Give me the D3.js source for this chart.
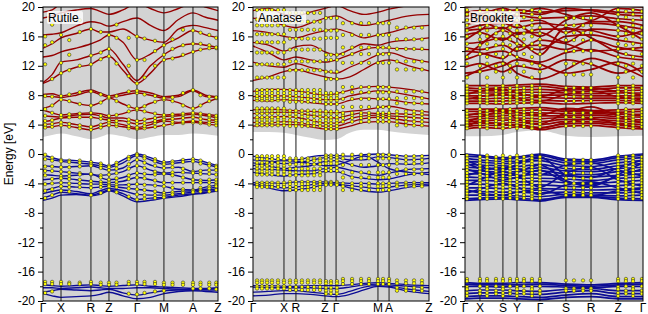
<!DOCTYPE html>
<html>
<head>
<meta charset="utf-8">
<script src="https://cdn.jsdelivr.net/npm/d3@7"></script>
<style>
body { margin: 0; background: #fff; }
svg { display: block; }
text { font-family: Arial, "Liberation Sans", sans-serif; fill: #000; }
</style>
</head>
<body>
<svg id="chart" width="648" height="314"></svg>
<script>
// ---------- Rutile ----------
var rutLabels = ["Γ","X","R","Z","Γ","M","A","Z"];
var rutLabelK = [0, 0.103, 0.274, 0.377, 0.537, 0.691, 0.857, 1];
var rutK = [0, 0.052, 0.103, 0.19, 0.274, 0.326, 0.377, 0.457, 0.537, 0.614, 0.691, 0.774, 0.857, 0.929, 1];
var rutValence = [
  [-0.1,-0.5,-0.8,-0.9,-1.1,-1.3,-1.6,-0.8,0.0,-0.5,-1.1,-0.9,-0.7,-1.1,-1.6],
  [-0.6,-0.8,-1.0,-1.2,-1.4,-1.6,-1.8,-1.2,-0.2,-0.8,-1.4,-1.2,-1.0,-1.4,-1.8],
  [-1.6,-1.7,-1.8,-1.7,-1.6,-1.9,-2.2,-1.9,-0.8,-1.5,-1.9,-1.8,-2.4,-2.2,-2.2],
  [-2.2,-2.3,-2.4,-2.6,-2.8,-2.9,-2.8,-2.4,-1.6,-2.2,-2.6,-2.5,-2.6,-2.7,-2.8],
  [-2.8,-2.9,-3.0,-2.9,-2.7,-3.2,-3.5,-3.2,-2.6,-2.8,-2.7,-3.0,-3.5,-3.6,-3.5],
  [-3.5,-3.4,-3.3,-3.5,-3.7,-3.8,-3.9,-3.7,-3.2,-3.5,-3.9,-3.9,-3.9,-3.9,-3.9],
  [-4.1,-4.0,-3.9,-4.0,-4.1,-4.1,-4.2,-4.2,-4.1,-4.2,-4.4,-4.8,-4.9,-4.5,-4.2],
  [-5.0,-4.7,-4.4,-4.5,-4.6,-4.5,-4.4,-4.6,-4.8,-5.0,-5.3,-5.1,-5.0,-4.8,-4.4],
  [-5.4,-5.1,-4.9,-5.1,-5.4,-5.0,-4.7,-5.0,-5.5,-5.6,-5.6,-5.4,-5.2,-5.0,-4.7],
  [-6.0,-5.6,-5.2,-5.4,-5.6,-5.3,-4.9,-5.4,-6.2,-6.0,-5.9,-5.6,-5.4,-5.2,-4.9],
  [-6.3,-6.0,-5.6,-5.5,-5.7,-5.5,-5.0,-5.7,-6.5,-6.3,-6.0,-5.8,-5.5,-5.3,-5.0]
];
var rutConduction = [
  [3.6,3.7,3.9,3.6,3.3,3.6,3.9,3.7,3.4,3.6,3.9,4.2,4.3,4.1,3.9],
  [4.0,4.1,4.3,4.0,3.7,4.0,4.3,4.0,3.6,4.0,4.5,4.3,4.5,4.3,4.3],
  [4.4,4.6,4.9,5.0,5.0,4.8,4.6,4.5,4.1,4.3,4.7,4.8,5.0,4.7,4.6],
  [5.2,5.1,5.0,5.3,5.4,5.2,4.9,4.9,4.5,4.8,5.1,5.2,5.4,5.2,4.9],
  [6.0,5.6,5.3,5.5,5.6,5.5,5.2,5.5,6.0,5.6,5.3,5.4,5.6,5.4,5.2],
  [6.2,6.6,7.4,6.9,6.6,7.0,7.6,6.8,6.2,6.9,7.4,7.0,6.2,7.0,7.6],
  [7.8,7.8,7.7,8.0,8.5,8.1,7.7,8.0,8.3,8.0,7.6,7.8,8.6,7.8,7.7],
  [8.1,8.2,7.9,8.3,8.7,8.3,7.9,8.3,8.6,8.3,7.8,8.0,8.7,8.0,7.8],
  [9.6,10.2,11.0,11.8,12.2,12.9,13.3,11.4,9.6,11.0,12.8,13.2,13.9,14.3,14.4],
  [9.7,10.8,12.5,12.8,13.4,13.8,14.3,12.2,10.0,12.0,13.5,14.6,15.0,14.8,14.5],
  [13.2,13.4,13.9,14.4,15.0,15.5,16.2,15.2,12.8,13.6,14.8,15.8,16.8,16.2,15.8],
  [14.4,15.0,15.8,16.4,17.0,16.6,16.6,17.0,16.0,15.5,15.2,17.0,17.5,17.2,16.8],
  [16.2,16.3,16.5,17.4,18.0,17.8,17.4,18.0,18.5,17.5,16.8,18.3,19.2,18.6,18.2],
  [18.5,18.8,19.2,19.6,19.8,19.4,19.0,19.6,20.5,19.8,19.2,19.8,20.5,20.0,19.5],
  [19.3,19.6,20.4,20.6,21.0,20.6,20.2,20.8,21.0,20.6,20.2,20.8,21.0,21.0,20.5]
];
var rutSemicore = [
  [-17.8,-17.9,-18.0,-17.9,-17.8,-17.9,-18.0,-17.9,-17.8,-18.0,-18.1,-18.2,-18.3,-18.3,-18.2],
  [-18.2,-18.2,-18.3,-18.2,-18.1,-18.2,-18.3,-18.3,-18.2,-18.2,-18.3,-18.4,-18.5,-18.4,-18.3],
  [-18.8,-18.6,-18.4,-18.5,-18.6,-18.5,-18.4,-18.9,-19.2,-18.9,-18.6,-18.5,-18.5,-18.5,-18.5],
  [-19.0,-19.3,-19.5,-19.4,-19.3,-19.1,-18.8,-19.3,-19.7,-19.5,-19.0,-18.7,-18.6,-18.7,-18.8]
];
var rutGapTop = [2.3,2.6,2.8,2.4,2.0,2.3,2.7,2.4,2.0,2.3,2.6,2.6,2.8,2.7,2.5];
var rutDotK = [0.012,0.052,0.103,0.15,0.21,0.274,0.33,0.377,0.42,0.49,0.537,0.58,0.64,0.691,0.74,0.80,0.857,0.90,0.95,0.99];
var rutDotE = [
  [-0.1,-0.7,-1.7,-2.3,-2.9,-4.1,-5.0,-6.0,3.6,4.0,4.5,5.2,6.1,7.9,12.2,14.8,16.0,-17.4,-17.7,-18.9],
  [-0.5,-0.9,-1.7,-2.3,-3.4,-4.0,-4.8,-5.6,3.7,4.1,4.6,5.6,6.6,7.8,10.2,15.2,17.6,-17.4,-17.7,-18.7],
  [-0.8,-1.0,-1.8,-2.4,-3.0,-3.3,-3.9,-4.4,-5.0,3.9,4.3,5.0,5.3,7.4,7.9,11.0,12.4,16.2,-17.4,-17.7],
  [-0.9,-1.1,-1.8,-2.5,-3.0,-3.4,-4.0,-4.5,-5.1,3.7,4.1,5.0,5.4,7.2,8.1,11.4,13.5,15.5,-17.5,-17.7],
  [-0.9,-1.2,-1.7,-2.6,-2.8,-3.5,-4.0,-4.5,3.5,3.9,5.0,5.5,6.8,8.4,12.0,16.6,18.2,-17.5,-17.7],
  [-1.1,-1.4,-1.6,-2.8,-2.7,-3.7,-4.1,-4.6,-5.6,3.3,3.7,5.0,5.6,6.6,8.5,12.2,13.4,17.0,-17.4,-17.7],
  [-1.3,-1.6,-1.9,-2.9,-3.2,-3.8,-4.1,-4.5,-5.3,3.6,4.0,4.8,5.2,7.0,8.1,12.9,13.8,16.6,-17.5,-17.8],
  [-1.6,-1.8,-2.2,-2.8,-3.5,-3.9,-4.2,-4.4,-4.9,3.9,4.3,4.6,5.2,7.6,7.8,13.3,14.3,16.2,-17.5,-17.8],
  [-1.2,-1.5,-2.0,-2.6,-3.3,-3.8,-4.2,-4.5,-5.2,3.8,4.1,4.5,5.3,7.2,7.9,12.3,15.8,17.6,-17.5,-17.8],
  [-0.4,-0.7,-1.4,-2.0,-2.9,-3.4,-4.2,-4.7,-5.8,3.5,3.8,4.3,4.7,5.8,6.5,8.5,10.6,12.0,15.8,-17.4,-17.7,-19.0],
  [0.0,-0.2,-0.8,-1.6,-2.6,-3.2,-4.1,-4.8,-5.5,-6.2,3.4,3.6,4.1,4.5,6.0,6.2,8.3,8.6,9.6,12.8,16.0,-17.4,-17.7,-19.1],
  [-0.3,-0.6,-1.2,-1.9,-2.7,-3.3,-4.2,-4.9,-5.6,-6.1,3.5,3.8,4.2,4.7,5.8,6.5,8.1,10.4,12.8,15.7,-17.4,-17.7,-18.9],
  [-0.7,-1.0,-1.6,-2.4,-2.8,-3.6,-4.3,-5.1,-5.6,-6.0,3.7,4.2,4.5,4.9,5.5,7.1,7.9,12.0,14.0,15.4,-17.4,-17.7,-18.7],
  [-1.1,-1.4,-1.9,-2.6,-2.7,-3.9,-4.4,-5.3,-5.6,-5.9,3.9,4.5,4.7,5.1,5.3,7.4,7.6,12.8,13.5,14.8,-17.5,-17.8,-18.6],
  [-1.0,-1.3,-1.8,-2.5,-2.9,-3.9,-4.6,-5.2,-5.5,4.1,4.4,4.8,5.2,5.4,7.2,7.7,13.0,14.3,15.6,-17.5,-17.8],
  [-0.8,-1.1,-2.0,-2.5,-3.2,-3.9,-4.8,-5.1,-5.3,4.2,4.4,4.9,5.3,5.5,6.6,8.3,13.5,14.8,16.9,-17.5,-17.8],
  [-0.7,-1.0,-2.4,-2.6,-3.5,-3.9,-4.9,-5.0,-5.2,4.3,4.5,5.0,5.4,5.6,6.2,8.6,8.7,13.9,15.0,16.8,-17.5,-17.8,-18.3],
  [-0.9,-1.3,-2.3,-2.7,-3.6,-3.9,-4.6,-4.9,-5.1,4.2,4.4,4.8,5.3,5.5,6.6,8.0,14.2,15.0,16.5,-17.5,-17.8,-18.3],
  [-1.3,-1.6,-2.2,-2.7,-3.5,-3.9,-4.4,-4.7,-5.1,4.0,4.3,4.7,5.1,5.3,7.2,7.8,14.4,14.8,16.2,-17.5,-17.8,-18.3],
  [-1.6,-1.8,-2.2,-2.8,-3.5,-3.9,-4.2,-4.4,-4.9,3.9,4.3,4.6,4.9,5.2,7.6,7.7,14.4,14.5,15.8,-17.5,-17.8,-18.4]
];

// ---------- Anatase ----------
var anaLabels = ["Γ","X","R","Z","Γ","M","A","Z"];
var anaLabelK = [0, 0.176, 0.244, 0.409, 0.472, 0.710, 0.773, 1];
var anaK = [0, 0.088, 0.176, 0.244, 0.326, 0.409, 0.472, 0.55, 0.63, 0.71, 0.773, 0.886, 1];
var anaValence = [
  [-0.3,-0.6,-0.8,-0.8,-0.4,-0.2,-0.2,-0.3,-0.1,0.0,-0.1,-0.3,-0.2],
  [-0.8,-1.0,-1.3,-1.2,-0.9,-0.5,-0.5,-0.8,-0.8,-0.4,-0.5,-0.8,-0.6],
  [-1.2,-1.6,-2.0,-1.8,-1.6,-1.0,-0.9,-1.4,-1.8,-1.6,-1.3,-1.4,-1.2],
  [-2.0,-2.1,-2.2,-2.3,-2.3,-2.0,-1.8,-2.2,-2.6,-2.9,-2.6,-2.1,-2.0],
  [-2.5,-2.8,-3.0,-2.8,-2.7,-2.4,-2.4,-3.0,-3.3,-3.5,-3.4,-2.8,-2.5],
  [-3.9,-3.9,-4.0,-3.8,-3.8,-3.8,-3.9,-4.0,-4.0,-4.1,-4.0,-3.9,-3.9],
  [-4.1,-4.3,-4.6,-4.5,-4.2,-4.0,-4.1,-4.3,-4.5,-4.7,-4.5,-4.2,-4.1],
  [-4.2,-4.6,-5.0,-4.9,-4.6,-4.2,-4.2,-4.6,-5.0,-5.2,-5.0,-4.5,-4.3],
  [-1.6,-1.2,-0.9,-1.0,-1.3,-1.6,-1.5,-0.9,-0.3,-1.1,-2.0,-2.5,-2.8]
];
var anaConduction = [
  [3.8,3.9,4.0,4.0,3.7,3.4,3.4,3.8,4.3,4.4,4.4,4.0,3.8],
  [4.3,4.2,4.4,4.3,4.0,3.8,3.8,4.3,4.8,5.0,4.9,4.5,4.3],
  [4.9,5.0,5.1,5.0,4.6,4.2,4.2,4.8,5.2,5.3,5.2,5.0,4.8],
  [5.5,5.6,5.7,5.6,5.3,5.0,4.9,5.3,5.6,5.5,5.5,5.4,5.3],
  [6.0,6.1,6.0,5.9,5.8,5.7,5.6,5.8,6.0,6.3,6.5,6.0,5.7],
  [7.3,7.2,7.4,7.3,7.0,6.8,6.8,7.3,7.6,7.5,7.4,7.0,6.8],
  [7.8,7.9,7.9,7.8,7.6,7.4,7.4,7.9,8.3,8.6,8.5,8.0,7.5],
  [8.5,8.8,8.8,8.6,8.3,8.0,8.2,8.7,9.1,9.2,9.1,8.8,8.3],
  [10.0,10.5,11.2,11.5,11.0,10.5,10.2,10.5,11.5,12.5,12.8,12.0,11.3],
  [12.5,12.0,11.8,12.3,11.8,11.3,11.0,11.8,12.6,13.5,13.8,13.0,12.5],
  [14.7,13.8,12.8,13.2,12.8,12.5,12.8,13.5,14.2,14.5,14.4,14.3,14.2],
  [15.2,14.8,14.0,14.6,14.8,13.9,13.5,14.2,15.0,14.8,15.2,15.5,15.8],
  [16.8,16.5,16.0,15.8,16.3,16.8,17.0,16.5,15.8,16.2,16.5,17.2,17.5],
  [18.5,18.2,17.5,17.2,17.8,18.5,18.8,18.0,17.5,17.8,18.2,18.8,19.0],
  [19.5,19.8,19.0,18.8,19.3,19.8,20.2,19.5,19.0,19.3,19.7,20.2,20.5]
];
var anaSemicore = [
  [-17.9,-17.9,-18.0,-18.0,-17.9,-17.9,-17.9,-17.8,-17.6,-17.5,-17.6,-17.8,-17.9],
  [-18.1,-18.2,-18.2,-18.2,-18.2,-18.3,-18.3,-18.1,-17.8,-17.7,-17.8,-18.0,-18.2],
  [-18.8,-18.7,-18.6,-18.6,-18.8,-19.0,-19.1,-18.7,-18.1,-17.9,-18.0,-18.4,-18.7],
  [-19.3,-19.2,-19.0,-19.0,-19.1,-19.3,-19.4,-19.1,-18.5,-18.0,-18.1,-18.7,-19.0]
];
var anaGapTop = [3.0,3.0,2.9,2.6,2.2,1.9,2.0,2.9,3.3,3.3,3.1,2.8,2.6];
var anaDotK = [0.023,0.051,0.080,0.108,0.142,0.176,0.210,0.244,0.278,0.312,0.347,0.381,0.415,0.443,0.477,0.511,0.563,0.614,0.659,0.710,0.739,0.773,0.818,0.869,0.915,0.960];
var anaDotSet = [0,0,0,0,0,0,1,1,1,1,1,1,2,2,2,3,3,3,3,3,3,3,4,4,4,4];
var anaDotSets = [
  [-0.3,-0.7,-1.2,-1.6,-2.0,-2.4,-2.8,-3.9,-4.2,-4.5,3.9,4.3,4.7,5.0,5.5,5.9,6.2,7.3,7.6,7.9,8.3,8.7,10.4,12.2,13.8,15.2,16.3,17.5,18.3,19.6,-17.2,-17.5,-18.0,-18.3],
  [-0.6,-0.9,-1.4,-2.0,-2.5,-2.9,-3.8,-4.1,-4.5,-4.9,3.8,4.2,4.6,5.1,5.5,5.9,7.1,7.5,7.9,8.3,8.7,11.4,12.6,14.2,15.7,16.9,18.0,19.2,-17.2,-17.5,-18.1,-18.5],
  [-0.2,-0.5,-0.9,-1.3,-1.9,-2.3,-3.8,-4.0,-4.2,3.4,3.8,4.2,4.6,5.0,5.5,5.8,6.8,7.3,7.6,8.0,8.3,10.2,11.2,12.8,13.5,15.8,16.8,18.5,-17.3,-17.6,-18.2,-18.6,-19.0],
  [-0.1,-0.6,-1.5,-2.5,-3.2,-4.0,-4.4,-4.9,4.4,4.9,5.3,5.6,6.4,7.5,8.4,9.1,12.4,13.6,14.5,16.2,17.8,-17.0,-17.3,-17.7],
  [-0.3,-0.8,-1.3,-2.1,-2.7,-3.9,-4.2,-4.4,3.9,4.4,4.9,5.4,5.8,6.9,7.6,8.5,11.5,12.6,14.3,15.6,17.2,-17.2,-17.6,-18.2,-18.6]
];

// ---------- Brookite ----------
var brkLabels = ["Γ","X","S","Y","Γ","S","R","Z","Γ"];
var brkLabelK = [0, 0.084, 0.213, 0.292, 0.421, 0.567, 0.708, 0.860, 1];
var brkK = [0, 0.084, 0.213, 0.292, 0.421, 0.567, 0.708, 0.860, 1];
var brkValence = [
  [0.0,-0.2,-0.5,-0.4,0.0,-0.7,-0.8,-0.3,0.0],
  [-0.3,-0.4,-0.7,-0.6,-0.2,-0.9,-1.0,-0.5,-0.2],
  [-0.6,-0.8,-1.0,-1.0,-0.6,-1.2,-1.3,-0.8,-0.5],
  [-1.0,-1.1,-1.3,-1.2,-0.9,-1.6,-1.7,-1.2,-0.9],
  [-1.4,-1.5,-1.6,-1.7,-1.4,-2.0,-2.1,-1.6,-1.3],
  [-1.8,-1.9,-2.0,-2.1,-1.9,-2.3,-2.4,-2.0,-1.8],
  [-2.2,-2.3,-2.5,-2.4,-2.3,-2.7,-2.8,-2.4,-2.3],
  [-2.7,-2.7,-2.8,-2.9,-2.8,-3.0,-3.1,-2.9,-2.7],
  [-3.1,-3.2,-3.2,-3.3,-3.3,-3.4,-3.6,-3.3,-3.1],
  [-3.6,-3.6,-3.7,-3.8,-3.7,-3.9,-4.0,-3.8,-3.6],
  [-4.1,-4.1,-4.2,-4.2,-4.2,-4.4,-4.5,-4.3,-4.1],
  [-4.6,-4.6,-4.7,-4.7,-4.7,-4.8,-4.9,-4.8,-4.6],
  [-5.1,-5.1,-5.2,-5.2,-5.3,-5.2,-5.3,-5.3,-5.1],
  [-5.6,-5.6,-5.6,-5.7,-5.8,-5.5,-5.6,-5.7,-5.6],
  [-6.1,-6.0,-5.9,-6.0,-6.2,-5.8,-5.8,-6.0,-6.1],
  [-6.3,-6.2,-6.1,-6.2,-6.4,-5.9,-5.9,-6.2,-6.3],
  [-1.2,-2.0,-3.0,-2.5,-1.5,-3.6,-4.4,-2.8,-1.2],
  [-4.4,-3.5,-2.4,-3.0,-4.5,-2.6,-1.8,-3.5,-4.4],
  [-0.8,-1.6,-2.2,-1.4,-0.4,-2.8,-3.2,-1.9,-0.8],
  [-5.4,-4.8,-4.0,-4.5,-5.5,-4.2,-3.8,-4.6,-5.4],
  [-2.0,-2.6,-3.5,-3.2,-2.2,-3.8,-4.2,-3.0,-2.0],
  [-3.0,-2.4,-1.8,-2.0,-2.8,-1.5,-1.2,-2.2,-3.0],
  [-4.8,-5.3,-5.6,-5.2,-4.9,-5.6,-5.7,-5.0,-4.8]
];
var brkConduction = [
  [3.4,3.6,3.5,3.7,3.3,3.8,3.9,3.6,3.4],
  [3.7,3.9,3.9,4.0,3.6,4.1,4.2,3.9,3.7],
  [4.0,4.2,4.2,4.3,4.0,4.4,4.4,4.2,4.0],
  [4.3,4.5,4.6,4.6,4.4,4.7,4.7,4.5,4.3],
  [4.6,4.8,4.9,4.9,4.8,5.0,5.0,4.8,4.6],
  [5.0,5.1,5.2,5.3,5.2,5.2,5.3,5.1,5.0],
  [5.4,5.4,5.5,5.6,5.6,5.5,5.5,5.4,5.4],
  [5.8,5.8,5.8,5.9,6.0,5.8,5.7,5.7,5.8],
  [6.1,6.1,6.1,6.2,6.3,6.0,5.9,6.0,6.1],
  [4.2,5.0,5.8,4.8,4.1,5.6,6.4,5.2,4.2],
  [3.6,4.4,4.0,3.9,3.5,4.3,4.8,4.1,3.6],
  [5.2,5.6,6.0,5.7,5.3,6.2,5.9,5.5,5.2],
  [6.9,6.9,6.8,6.9,7.0,6.8,6.9,7.0,6.9],
  [7.2,7.2,7.2,7.3,7.3,7.2,7.3,7.3,7.2],
  [7.6,7.5,7.6,7.6,7.7,7.6,7.6,7.6,7.6],
  [7.9,7.9,8.0,8.0,8.0,8.0,7.9,7.9,7.9],
  [8.3,8.3,8.3,8.4,8.4,8.3,8.2,8.3,8.3],
  [8.7,8.6,8.6,8.7,8.8,8.6,8.5,8.6,8.7],
  [9.0,8.9,9.0,9.1,9.2,8.9,8.8,9.0,9.0],
  [9.3,9.3,9.3,9.4,9.5,9.2,9.1,9.3,9.3],
  [7.4,7.8,8.2,7.6,7.2,8.1,8.6,7.8,7.4],
  [8.0,8.6,8.8,8.3,7.8,8.8,9.0,8.5,8.0],
  [10.5,11.5,12.5,11.0,10.2,11.5,13.0,12.0,10.5],
  [11.8,12.3,11.2,12.0,11.5,12.8,12.2,11.0,11.8],
  [11.0,11.2,12.0,12.8,12.2,11.0,11.5,12.5,11.0],
  [12.8,13.5,14.0,13.2,12.5,13.8,14.2,13.2,12.8],
  [14.0,13.8,13.0,14.5,14.8,14.2,15.5,14.5,14.0],
  [14.5,14.2,14.8,14.0,15.5,15.0,14.0,14.2,14.5],
  [15.0,15.2,15.8,15.0,14.2,16.0,16.2,15.5,15.0],
  [16.2,16.5,15.5,16.5,16.5,15.2,17.0,16.8,16.2],
  [17.0,17.5,17.8,17.2,17.8,17.5,17.8,17.5,17.0],
  [17.5,18.0,17.0,18.0,18.2,16.5,18.0,18.0,17.5],
  [18.2,18.5,18.2,18.8,18.5,18.6,18.8,18.4,18.2],
  [19.2,19.5,19.4,19.6,19.3,19.5,19.6,19.3,19.2],
  [19.5,18.8,18.6,19.0,19.8,19.0,18.2,19.8,19.5],
  [20.0,20.2,20.3,20.5,20.1,20.3,20.5,20.2,20.0],
  [13.2,14.8,16.8,15.8,13.5,17.2,15.8,13.8,13.2],
  [15.5,16.8,18.8,17.8,16.0,18.2,19.2,17.5,15.5],
  [16.8,17.0,17.2,16.3,17.0,17.0,16.8,16.0,16.8],
  [18.8,19.0,19.8,19.3,19.0,19.8,19.5,19.0,18.8]
];
var brkSemicore = [
  [-17.5,-17.6,-17.6,-17.5,-17.5,-17.7,-17.8,-17.6,-17.5],
  [-17.7,-17.8,-17.8,-17.8,-17.7,-17.9,-18.0,-17.8,-17.7],
  [-18.0,-18.0,-18.1,-18.0,-18.0,-18.1,-18.2,-18.0,-18.0],
  [-18.6,-18.5,-18.5,-18.6,-18.7,-18.4,-18.3,-18.6,-18.6],
  [-19.0,-18.9,-18.9,-19.0,-19.1,-18.8,-18.6,-19.0,-19.0],
  [-19.4,-19.3,-19.3,-19.4,-19.5,-19.2,-19.0,-19.4,-19.4],
  [-19.7,-19.6,-19.6,-19.7,-19.8,-19.5,-19.4,-19.7,-19.7]
];
var brkGapTop = [2.4,2.4,2.6,3.0,3.2,2.5,2.3,2.4,2.5];
var brkDotK = [0.011,0.084,0.124,0.174,0.213,0.253,0.292,0.331,0.376,0.421,0.567,0.612,0.663,0.708,0.860,0.904,0.944,0.994];
var brkDotSet = [0,1,0,1,0,1,0,1,0,1,2,2,2,2,0,1,0,1];
var brkDotSets = [
  [-0.2,-0.6,-1.0,-1.4,-1.8,-2.2,-2.6,-3.0,-3.4,-3.8,-4.2,-4.6,-5.0,-5.4,-5.8,-6.1,3.5,3.9,4.3,4.7,5.1,5.5,5.9,6.9,7.3,7.7,8.1,8.5,8.9,9.3,10.4,12.3,13.2,14.3,15.0,16.0,16.8,17.5,18.2,19.0,19.6,-17.0,-17.3,-18.1,-18.4,-18.9,-19.3],
  [-0.4,-0.8,-1.2,-1.6,-2.0,-2.4,-2.8,-3.2,-3.6,-4.0,-4.4,-4.8,-5.2,-5.6,-6.0,3.7,4.1,4.5,4.9,5.3,5.7,6.1,7.0,7.4,7.8,8.2,8.6,9.0,11.2,12.0,13.6,14.8,15.6,16.4,17.2,18.6,19.4,-17.0,-17.3,-18.0,-18.6,-19.0],
  [-0.8,-1.3,-1.9,-2.6,-3.3,-4.0,-4.6,-5.2,-5.6,3.8,4.4,5.0,5.6,7.2,7.8,8.4,9.0,10.8,12.3,14.0,15.5,16.5,17.5,18.5,-17.2,-18.3,-18.6]
];

var yTicks = [-20,-16,-12,-8,-4,0,4,8,12,16,20];
var yMinorTicks = [-18,-14,-10,-6,-2,2,6,10,14,18];

// ---------- drawing ----------
var svg = d3.select("#chart");
var y = d3.scaleLinear().domain([-20, 20]).range([301, 7]);

var panels = [
  {name: "Rutile", left: 43, right: 218, labels: rutLabels, labelK: rutLabelK, k: rutK,
   valence: rutValence, conduction: rutConduction, semicore: rutSemicore, gap: rutGapTop,
   dotK: rutDotK, dotE: rutDotE, lw: 1.4, boxW: 36},
  {name: "Anatase", left: 253, right: 429, labels: anaLabels, labelK: anaLabelK, k: anaK,
   valence: anaValence, conduction: anaConduction, semicore: anaSemicore, gap: anaGapTop,
   dotK: anaDotK, dotE: anaDotSet.map(function(s){ return anaDotSets[s]; }), lw: 1.3, boxW: 49},
  {name: "Brookite", left: 465, right: 643, labels: brkLabels, labelK: brkLabelK, k: brkK,
   valence: brkValence, conduction: brkConduction, semicore: brkSemicore, gap: brkGapTop,
   dotK: brkDotK, dotE: brkDotSet.map(function(s){ return brkDotSets[s]; }), lw: 1.7, boxW: 51}
];

var red = "#960000", blue = "#0c0c94";

panels.forEach(function(p, idx){
  var x = d3.scaleLinear().domain([0, 1]).range([p.left, p.right]);
  var clipId = "clip" + idx;
  svg.append("clipPath").attr("id", clipId)
    .append("rect")
    .attr("x", p.left).attr("y", y(20))
    .attr("width", p.right - p.left).attr("height", y(-20) - y(20));

  var plot = svg.append("g").attr("clip-path", "url(#" + clipId + ")");

  plot.append("rect")
    .attr("x", p.left).attr("y", y(20))
    .attr("width", p.right - p.left).attr("height", y(-20) - y(20))
    .attr("fill", "#d3d3d3");

  var gapArea = d3.area()
    .x(function(d, i){ return x(p.k[i]); })
    .y0(function(d, i){ return y(p.valence[0][i]); })
    .y1(function(d){ return y(d); })
    .curve(d3.curveMonotoneX);
  plot.append("path").datum(p.gap)
    .attr("d", gapArea).attr("fill", "#fff");

  var line = d3.line()
    .x(function(d, i){ return x(p.k[i]); })
    .y(function(d){ return y(d); })
    .curve(d3.curveMonotoneX);

  plot.selectAll(".cb").data(p.conduction).enter().append("path")
    .attr("d", line).attr("fill", "none").attr("stroke", red).attr("stroke-width", p.lw);
  plot.selectAll(".vb").data(p.valence.concat(p.semicore)).enter().append("path")
    .attr("d", line).attr("fill", "none").attr("stroke", blue).attr("stroke-width", p.lw);

  // high symmetry lines
  plot.selectAll(".sym").data(p.labelK.slice(1, -1)).enter().append("line")
    .attr("x1", function(d){ return x(d); }).attr("x2", function(d){ return x(d); })
    .attr("y1", y(20)).attr("y2", y(-20))
    .attr("stroke", "#1a1a1a").attr("stroke-width", 1);

  // dots
  var dots = [];
  p.dotK.forEach(function(k, i){
    p.dotE[i].forEach(function(e){ dots.push([k, e]); });
  });
  plot.selectAll(".dot").data(dots).enter().append("circle")
    .attr("cx", function(d){ return x(d[0]); })
    .attr("cy", function(d){ return y(d[1]); })
    .attr("r", 1.7)
    .attr("fill", "#ffff00").attr("stroke", "#333").attr("stroke-width", 0.6);

  // frame
  svg.append("rect")
    .attr("x", p.left).attr("y", y(20))
    .attr("width", p.right - p.left).attr("height", y(-20) - y(20))
    .attr("fill", "none").attr("stroke", "#000").attr("stroke-width", 1);

  // y axis
  var axis = svg.append("g").attr("transform", "translate(" + p.left + ",0)")
    .call(d3.axisLeft(y).tickValues(yTicks).tickSize(5).tickPadding(3)
      .tickFormat(function(d){ return String(d); }));
  axis.select(".domain").remove();
  axis.selectAll("text").attr("font-size", 12).style("font-family", "Arial, 'Liberation Sans', sans-serif");
  var minor = svg.append("g").attr("transform", "translate(" + p.left + ",0)")
    .call(d3.axisLeft(y).tickValues(yMinorTicks).tickSize(3).tickFormat(""));
  minor.select(".domain").remove();

  // k labels
  svg.selectAll(".kl" + idx).data(p.labels).enter().append("text")
    .attr("x", function(d, i){ return x(p.labelK[i]); })
    .attr("y", 312)
    .attr("text-anchor", "middle")
    .attr("font-size", 12)
    .text(function(d){ return d; });

  // name box
  svg.append("rect")
    .attr("x", p.left + 4).attr("y", 11)
    .attr("width", p.boxW).attr("height", 13)
    .attr("rx", 2)
    .attr("fill", "#fff").attr("fill-opacity", 0.8);
  svg.append("text")
    .attr("x", p.left + 5).attr("y", 22)
    .attr("font-size", 12)
    .text(p.name);
});

svg.append("text")
  .attr("transform", "translate(13,154) rotate(-90)")
  .attr("text-anchor", "middle")
  .attr("font-size", 12)
  .text("Energy [eV]");
</script>
</body>
</html>
